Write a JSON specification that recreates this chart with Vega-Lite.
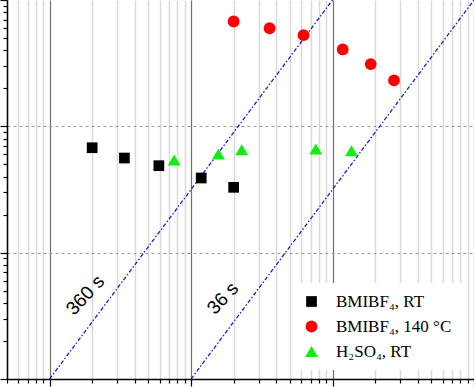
{
  "$schema": "https://vega.github.io/schema/vega-lite/v6.json",
  "width": 467,
  "height": 379,
  "autosize": {"type": "none"},
  "padding": {"left": 7, "top": 0, "right": 0, "bottom": 8},
  "background": "white",
  "config": {"view": {"stroke": null}},
  "datasets": {
    "pts": [
      {"x": 2.0, "y": 67.7, "series": "BMIBF₄, RT"},
      {"x": 3.38, "y": 56.1, "series": "BMIBF₄, RT"},
      {"x": 5.92, "y": 48.8, "series": "BMIBF₄, RT"},
      {"x": 11.8, "y": 39.0, "series": "BMIBF₄, RT"},
      {"x": 20.0, "y": 32.9, "series": "BMIBF₄, RT"},
      {"x": 20.0, "y": 676, "series": "BMIBF₄, 140 °C"},
      {"x": 35.9, "y": 598, "series": "BMIBF₄, 140 °C"},
      {"x": 62.4, "y": 527, "series": "BMIBF₄, 140 °C"},
      {"x": 118, "y": 406, "series": "BMIBF₄, 140 °C"},
      {"x": 186, "y": 311, "series": "BMIBF₄, 140 °C"},
      {"x": 272, "y": 231, "series": "BMIBF₄, 140 °C"},
      {"x": 7.59, "y": 54.1, "series": "H₂SO₄, RT"},
      {"x": 15.6, "y": 60.4, "series": "H₂SO₄, RT"},
      {"x": 22.8, "y": 65.3, "series": "H₂SO₄, RT"},
      {"x": 76.2, "y": 66.1, "series": "H₂SO₄, RT"},
      {"x": 136, "y": 64.1, "series": "H₂SO₄, RT"}
    ],
    "lines": [
      {"x": 1, "y": 1, "t": "360 s"},
      {"x": 100, "y": 1000, "t": "360 s"},
      {"x": 10, "y": 1, "t": "36 s"},
      {"x": 1000, "y": 1000, "t": "36 s"}
    ],
    "labels": [
      {"x": 1.79, "y": 4.6, "t": "360 s"},
      {"x": 16.8, "y": 4.35, "t": "36 s"}
    ]
  },
  "encoding": {
    "x": {
      "field": "x", "type": "quantitative",
      "scale": {"type": "log", "domain": [0.5, 1000], "nice": false},
      "axis": {
        "title": null, "labels": false,
        "values": [0.5,0.6,0.7,0.8,0.9,1,2,3,4,5,6,7,8,9,10,20,30,40,50,60,70,80,90,100,200,300,400,500,600,700,800,900,1000],
        "domainColor": "black", "domainWidth": 1.5,
        "tickColor": "black", "tickWidth": 1.2,
        "tickSize": {"condition": {"test": "indexof([1,10,100,1000], datum.value) >= 0", "value": 7}, "value": 4},
        "grid": true,
        "gridColor": {"condition": {"test": "indexof([1,10,100,1000], datum.value) >= 0", "value": "#707070"}, "value": "#d9d9d9"},
        "gridWidth": {"condition": {"test": "indexof([1,10,100,1000], datum.value) >= 0", "value": 1.2}, "value": 1.5},
        "gridOpacity": 1
      }
    },
    "y": {
      "field": "y", "type": "quantitative",
      "scale": {"type": "log", "domain": [1, 1000], "nice": false},
      "axis": {
        "title": null, "labels": false,
        "values": [1,2,3,4,5,6,7,8,9,10,20,30,40,50,60,70,80,90,100,200,300,400,500,600,700,800,900,1000],
        "domainColor": "black", "domainWidth": 1.5,
        "tickColor": "black", "tickWidth": 1.2,
        "tickSize": {"condition": {"test": "indexof([1,10,100,1000], datum.value) >= 0", "value": 7}, "value": 4},
        "grid": true,
        "gridColor": "#999999",
        "gridDash": [3, 3],
        "gridWidth": 1,
        "gridOpacity": {"condition": {"test": "indexof([10,100], datum.value) >= 0", "value": 1}, "value": 0}
      }
    }
  },
  "layer": [
    {
      "data": {"name": "lines"},
      "mark": {"type": "line", "color": "#1c1cd0", "strokeWidth": 1.3, "strokeDash": [4, 2, 1.5, 2], "clip": true},
      "encoding": {"detail": {"field": "t"}}
    },
    {
      "data": {"name": "labels"},
      "mark": {"type": "text", "font": "Liberation Sans", "fontSize": 19, "angle": 313, "color": "black", "align": "center", "baseline": "middle"},
      "encoding": {"text": {"field": "t"}}
    },
    {
      "data": {"name": "pts"},
      "mark": {"type": "point", "filled": true, "opacity": 1, "strokeWidth": 0},
      "encoding": {
        "shape": {"field": "series", "type": "nominal", "sort": null,
          "scale": {"domain": ["BMIBF₄, RT", "BMIBF₄, 140 °C", "H₂SO₄, RT"], "range": ["square", "circle", "triangle-up"]}},
        "color": {"field": "series", "type": "nominal", "sort": null,
          "scale": {"domain": ["BMIBF₄, RT", "BMIBF₄, 140 °C", "H₂SO₄, RT"], "range": ["#000000", "#ff0000", "#11ee11"]},
          "legend": {
            "title": null, "orient": "none", "legendX": 286, "legendY": 283,
            "fillColor": "white", "padding": 10, "strokeColor": null,
            "labelFont": "Liberation Serif", "labelFontSize": 17, "labelColor": "black",
            "labelOffset": 16, "rowPadding": 7, "symbolStrokeWidth": 0
          }},
        "size": {"field": "series", "type": "nominal", "sort": null,
          "scale": {"domain": ["BMIBF₄, RT", "BMIBF₄, 140 °C", "H₂SO₄, RT"], "range": [115, 165, 205]}}
      }
    }
  ]
}
